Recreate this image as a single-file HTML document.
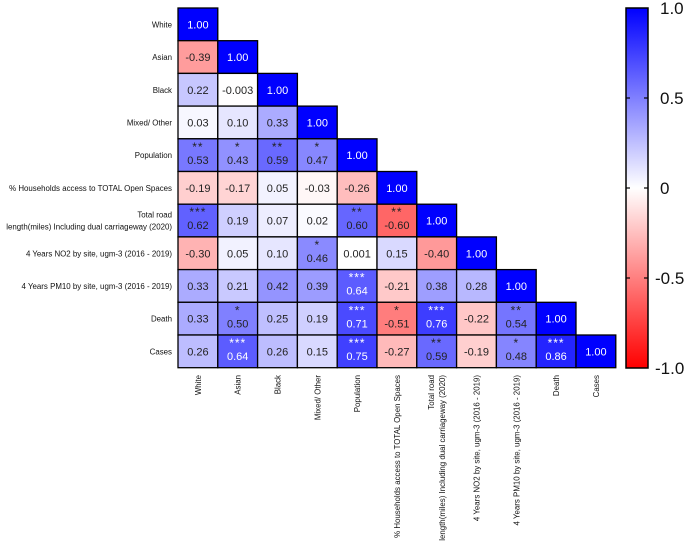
<!DOCTYPE html>
<html><head><meta charset="utf-8"><style>
body{margin:0;background:#fff;}
svg{display:block;font-family:"Liberation Sans",Arial,sans-serif;}
</style></head><body>
<svg id="chart" width="685" height="543">
<defs><linearGradient id="cb" x1="0" y1="0" x2="0" y2="1">
<stop offset="0" stop-color="#0000ff"/><stop offset="0.5" stop-color="#ffffff"/><stop offset="1" stop-color="#ff0000"/>
</linearGradient></defs>
<g id="cells"></g><g id="labels"></g>
<g>
<rect x="626" y="8" width="22" height="360" fill="url(#cb)" stroke="#000" stroke-width="1.5"/>
<g id="cbticks"></g>
</g>
</svg>
<script>
const rowLabels=[["White"],["Asian"],["Black"],["Mixed/ Other"],["Population"],["% Households access to TOTAL Open Spaces"],["Total road","length(miles) Including dual carriageway (2020)"],["4 Years NO2 by site, ugm-3 (2016 - 2019)"],["4 Years PM10 by site, ugm-3 (2016 - 2019)"],["Death"],["Cases"]];
const corr=[
[1.00],
[-0.39,1.00],
[0.22,-0.003,1.00],
[0.03,0.10,0.33,1.00],
[0.53,0.43,0.59,0.47,1.00],
[-0.19,-0.17,0.05,-0.03,-0.26,1.00],
[0.62,0.19,0.07,0.02,0.60,-0.60,1.00],
[-0.30,0.05,0.10,0.46,0.001,0.15,-0.40,1.00],
[0.33,0.21,0.42,0.39,0.64,-0.21,0.38,0.28,1.00],
[0.33,0.50,0.25,0.19,0.71,-0.51,0.76,-0.22,0.54,1.00],
[0.26,0.64,0.26,0.15,0.75,-0.27,0.59,-0.19,0.48,0.86,1.00]];
const labelsTxt=[
["1.00"],["-0.39","1.00"],["0.22","-0.003","1.00"],["0.03","0.10","0.33","1.00"],
["0.53","0.43","0.59","0.47","1.00"],["-0.19","-0.17","0.05","-0.03","-0.26","1.00"],
["0.62","0.19","0.07","0.02","0.60","-0.60","1.00"],["-0.30","0.05","0.10","0.46","0.001","0.15","-0.40","1.00"],
["0.33","0.21","0.42","0.39","0.64","-0.21","0.38","0.28","1.00"],["0.33","0.50","0.25","0.19","0.71","-0.51","0.76","-0.22","0.54","1.00"],
["0.26","0.64","0.26","0.15","0.75","-0.27","0.59","-0.19","0.48","0.86","1.00"]];
const stars=[
[""],["",""],["","",""],["","","",""],
["**","*","**","*",""],["","","","","",""],
["***","","","","**","**",""],["","","","*","","","",""],
["","","","","***","","","",""],["","*","","","***","*","***","","**",""],
["","***","","","***","","**","","*","***",""]];
const cbTicks=[1.0,0.5,0,-0.5,-1.0];
const cbLabels=["1.0","0.5","0","-0.5","-1.0"];

const NS="http://www.w3.org/2000/svg";
const x0=178,y0=8,cw=39.8,ch=32.7;
const xS=j=>x0+j*cw, yS=i=>y0+i*ch;
const cbY=v=>188-v*180;
function color(r){const t=Math.min(1,Math.abs(r));const c=Math.round(255*(1-t));return r>=0?`rgb(${c},${c},255)`:`rgb(255,${c},${c})`;}
function mk(t,a,p){const e=document.createElementNS(NS,t);for(const k in a)e.setAttribute(k,a[k]);(p||document.getElementById('chart')).appendChild(e);return e;}
const cells=document.getElementById('cells'),labs=document.getElementById('labels');
corr.forEach((row,i)=>row.forEach((r,j)=>{
 const g=mk('g',{},cells);
 
 
 mk('rect',{x:xS(j),y:yS(i),width:cw,height:ch,fill:color(r),stroke:'#000','stroke-width':1.3},g);
 const tc=r>=0.63?'#fff':'#222';
 const s=stars[i][j];
 const cx=xS(j)+cw/2;
 if(s){mk('text',{x:cx,y:yS(i)+12,'text-anchor':'middle','font-size':12,fill:tc,'letter-spacing':1},g).textContent=s;
  mk('text',{x:cx,y:yS(i)+25,'text-anchor':'middle','font-size':11,fill:tc},g).textContent=labelsTxt[i][j];}
 else mk('text',{x:cx,y:yS(i)+ch/2+4,'text-anchor':'middle','font-size':11,fill:tc},g).textContent=labelsTxt[i][j];
}));
rowLabels.forEach((l,i)=>{
 const g=mk('g',{},labs);
 
 
 const cy=yS(i)+ch/2;
 l.forEach((t,k)=>{mk('text',{x:172,y:cy+3+(k-(l.length-1)/2)*12,'text-anchor':'end','font-size':7.9,fill:'#111'},g).textContent=t;});
 const g2=mk('g',{},labs);
 
 
 const cx=xS(i)+cw/2;
 l.forEach((t,k)=>{const x=cx+3+(k-(l.length-1)/2)*11;mk('text',{x:x,y:375,'text-anchor':'end','font-size':7.9,fill:'#111',transform:`rotate(-90 ${x} 375)`},g2).textContent=t;});
});
const cbt=document.getElementById('cbticks');
cbTicks.forEach((v,k)=>{
 const y=cbY(v);
 if(k>0&&k<cbTicks.length-1){mk('line',{x1:626,x2:630,y1:y,y2:y,stroke:'#000','stroke-width':1.2},cbt);mk('line',{x1:644,x2:648,y1:y,y2:y,stroke:'#000','stroke-width':1.2},cbt);}
 const t=mk('text',{x:v<0?655:660,y:y+6,'font-size':17,fill:'#111'},cbt);
 
 
 t.textContent=cbLabels[k];
});
</script>
</body></html>
